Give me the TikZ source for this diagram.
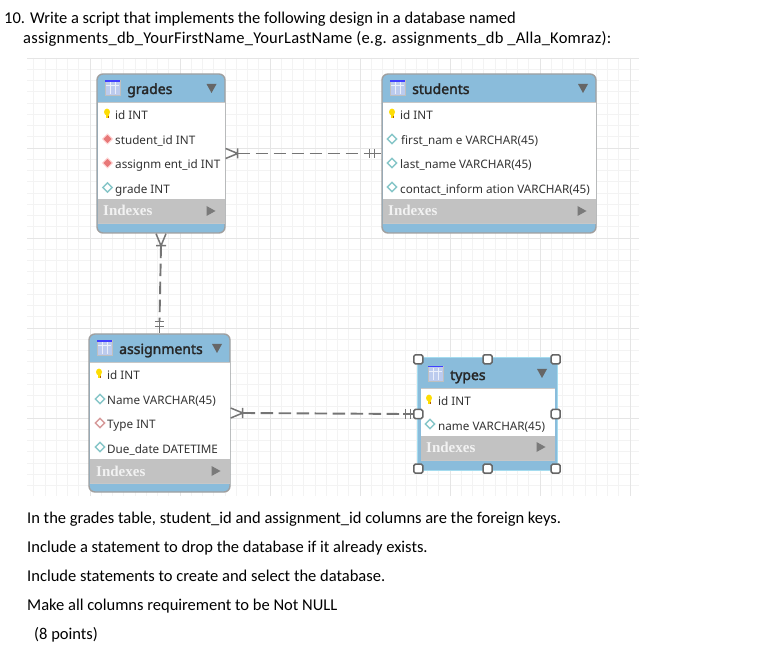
\documentclass[tikz,border=0pt]{standalone}
\usepackage{fontspec}
\setmainfont{Carlito}
\newfontfamily\tblfont{Noto Sans}
\newfontfamily\ttlfont[FakeBold=2]{Noto Sans}
\newfontfamily\idxfont{Liberation Serif}
\newfontface\widecarlito[LetterSpace=1.4]{Carlito}
\usetikzlibrary{calc}
\definecolor{hdr}{HTML}{8ABCDB}
\definecolor{bord}{HTML}{A0A0A0}
\definecolor{idx}{HTML}{C2C2C2}
\definecolor{gridminor}{HTML}{F3F3F3}
\definecolor{gridmajor}{HTML}{E5E5E5}
\definecolor{relc}{HTML}{757575}
\definecolor{iconfill}{HTML}{BCCBEE}
\definecolor{seln}{HTML}{A5DCEF}
\definecolor{fkred}{HTML}{E87878}
\definecolor{colteal}{HTML}{86C6C8}
\definecolor{refrose}{HTML}{D79A9A}
\tikzset{
  x=1pt,y=-1pt,
  tablebox/.style={draw=bord,line width=1.4pt,fill=hdr,rounded corners=6pt,inner sep=0pt,minimum width=#1},
  prose/.style={anchor=base west,inner sep=0pt,font=\fontsize{16.5}{18}\selectfont,text=black},
  ttl/.style={anchor=base west,inner sep=0pt,font=\ttlfont\fontsize{14}{16}\selectfont,text=black!85},
  col/.style={anchor=base west,inner sep=0pt,font=\tblfont\fontsize{11.7}{13}\selectfont,text=black!80},
  idxlab/.style={anchor=base west,inner sep=0pt,font=\idxfont\bfseries\fontsize{15}{17}\selectfont,text=white!90!gray},
  rel/.style={draw=relc,line width=1.9pt},
  reldash/.style={rel,dash pattern=on 12.5pt off 5.5pt},
  handle/.style={draw=black!60,line width=1.5pt,fill=white,rounded corners=1.5pt,minimum size=9pt,inner sep=0pt},
  crow/.pic={\draw[draw=relc,line width=1.5pt] (0,-5) -- (12,0) -- (0,5) (12,-5) -- (12,5);},
  onebar/.pic={\draw[draw=relc,line width=1.5pt] (7,-4.5) -- (7,4.5) (12,-4.5) -- (12,4.5);},
  tblicon/.pic={
    \fill[black!30] (1,1) rectangle (16,16);
    \fill[iconfill,draw=black!25,line width=.5pt] (0,0) rectangle (15,15);
    \fill[blue!75] (0,0) rectangle (15,1.3);
    \draw[white!70!iconfill,line width=.6pt] (5,2) -- (5,14) (10,2) -- (10,14) (1,5) -- (14,5);
  },
  keyic/.pic={
    \fill[yellow!80!orange] (0,-1) ellipse (3 and 3.4);
    \fill[yellow!80!orange] (-1.5,0) rectangle (1.5,5.5);
    \fill[orange!70!black] (.8,3) rectangle (1.5,5.5);
  },
  fkic/.pic={\fill[fkred,draw=red!15!white,line width=.9pt] (-5,0) -- (0,-5) -- (5,0) -- (0,5) -- cycle;},
  colic/.pic={\draw[fill=white,draw=colteal,line width=1.3pt] (-4.6,0) -- (0,-4.6) -- (4.6,0) -- (0,4.6) -- cycle;},
  refic/.pic={\draw[fill=white,draw=refrose,line width=1.3pt] (-4.6,0) -- (0,-4.6) -- (4.6,0) -- (0,4.6) -- cycle;},
  dnarrow/.pic={\fill[black!60] (-5,-4.5) -- (5,-4.5) -- (0,4.5) -- cycle;},
  rtarrow/.pic={\fill[black!52] (-4.5,-5) -- (4.5,0) -- (-4.5,5) -- cycle;},
}
% table: name, x-left, x-right, y-top, y-header, y-rows, y-indexes, y-bottom
\newcommand{\erbox}[8]{%
  \node[tablebox=#3-#2,minimum height=#8-#4] (#1) at ({(#2+#3)/2},{(#4+#8)/2}) {};
  \fill[white] (#2+.5,#5) rectangle (#3-.5,#6);
  \fill[idx] (#2+.5,#6) rectangle (#3-.5,#7);
  \draw[black!22,line width=.7pt] (#2+.5,#5) -- (#3-.5,#5) (#2+.5,#7) -- (#3-.5,#7);
}
\begin{document}
\begin{tikzpicture}
\useasboundingbox (0,0) rectangle (764,647);
\fill[white] (0,0) rectangle (764,647);
% grid
\foreach \gi in {0,...,53} \draw[gridminor,line width=.8pt] ({33.75+\gi*11.25},58) -- ({33.75+\gi*11.25},496);
\foreach \gi in {0,...,38} \draw[gridminor,line width=.8pt] (27,{58+\gi*11.25}) -- (639,{58+\gi*11.25});
\foreach \gx in {90,180,...,630} \draw[gridmajor,line width=.9pt] (\gx,58) -- (\gx,496);
\foreach \gy in {58,148,...,418} \draw[gridmajor,line width=.9pt] (27,\gy) -- (639,\gy);
% prose
\node[prose] (q1) at (4,23.5) {10. Write a script that implements the following design in a database named};
\node[prose] (q2) at (23,43.5) {\widecarlito assignments\_db\_YourFirstName\_YourLastName (e.g. assignments\_db \_Alla\_Komraz):};
\node[prose] (p1) at (27,523) {In the grades table, student\_id and assignment\_id columns are the foreign keys.};
\node[prose] (p2) at (27,552) {Include a statement to drop the database if it already exists.};
\node[prose] (p3) at (27,581) {Include statements to create and select the database.};
\node[prose] (p4) at (27,610) {Make all columns requirement to be Not NULL};
\node[prose] (p5) at (34,639) {(8 points)};
% tables
\erbox{grades}{97}{225}{74}{102}{199}{223}{233}
\erbox{students}{382}{596}{74}{102}{199}{223}{233}
\erbox{assignments}{89}{230}{334}{362}{459}{483}{492}
\erbox{types}{418}{557}{358}{388}{436}{460}{470}
% types is selected: square blue frame
\fill[hdr] (418,358) rectangle (421,470);
\fill[hdr] (555,358) rectangle (557,470);
\fill[hdr] (418,358) rectangle (557,366);
\fill[hdr] (418,461) rectangle (557,470);
\draw[seln,line width=1.2pt] (types.north west) rectangle (types.south east);
% grades
\pic at (105,80.5) {tblicon};
\node[ttl] (g0) at (127,94) {grades};
\pic at (211.5,88.5) {dnarrow};
\pic at (107,113) {keyic};
\node[col] (g1) at (115,119.5) {id INT};
\pic at (107.5,139) {fkic};
\node[col] (g2) at (115,144.5) {student\_id INT};
\pic at (107.5,163) {fkic};
\node[col] (g3) at (115,168.5) {assignm ent\_id INT};
\pic at (107.5,187.5) {colic};
\node[col] (g4) at (115,193.5) {grade INT};
\node[idxlab] (g5) at (103,216) {Indexes};
\pic at (211,211) {rtarrow};
% students
\pic at (390,80.5) {tblicon};
\node[ttl] (s0) at (412,94) {students};
\pic at (583,88.5) {dnarrow};
\pic at (392,113) {keyic};
\node[col] (s1) at (400,119.5) {id INT};
\pic at (392,139) {colic};
\node[col] (s2) at (401,144.5) {first\_nam e VARCHAR(45)};
\pic at (392,163) {colic};
\node[col] (s3) at (400,168.5) {last\_name VARCHAR(45)};
\pic at (392,187) {colic};
\node[col] (s4) at (400,193.5) {contact\_inform ation VARCHAR(45)};
\node[idxlab] (s5) at (388,216) {Indexes};
\pic at (582,211) {rtarrow};
% assignments
\pic at (97,340.5) {tblicon};
\node[ttl] (a0) at (119,354) {assignments};
\pic at (217,348.5) {dnarrow};
\pic at (99,373) {keyic};
\node[col] (a1) at (107,379.5) {id INT};
\pic at (100,399) {colic};
\node[col] (a2) at (107,404.5) {Name VARCHAR(45)};
\pic at (100,423) {refic};
\node[col] (a3) at (107,428.5) {Type INT};
\pic at (100,447) {colic};
\node[col] (a4) at (107,453.5) {Due\_date DATETIME};
\node[idxlab] (a5) at (96,476) {Indexes};
\pic at (216,471) {rtarrow};
% types
\pic at (428,366) {tblicon};
\node[ttl] (t0) at (450,380) {types};
\pic at (542,373.5) {dnarrow};
\pic at (429,399) {keyic};
\node[col] (t1) at (438,405.5) {id INT};
\pic at (430,424) {colic};
\node[col] (t2) at (438,430.5) {name VARCHAR(45)};
\node[idxlab] (t3) at (426,453) {Indexes};
\pic at (541,447) {rtarrow};
% connectors
\draw[reldash] ([xshift=12pt]grades.east) -- ([xshift=-12pt]students.west);
\draw[rel] ([xshift=-14pt]students.west) -- (students.west);
\pic[rotate=0] at (grades.east) {crow};
\pic[rotate=180] at (students.west) {onebar};
\draw[reldash] ([yshift=-12pt]grades.south) -- ([yshift=12pt]assignments.north);
\draw[rel] ([yshift=14pt]assignments.north) -- (assignments.north);
\pic[rotate=-90] at (grades.south) {crow};
\pic[rotate=90] at (assignments.north) {onebar};
\draw[reldash] ([xshift=12pt]assignments.east) -- ([xshift=-12pt]types.west);
\draw[rel] ([xshift=-14pt]types.west) -- (types.west);
\pic[rotate=0] at (assignments.east) {crow};
\pic[rotate=180] at (types.west) {onebar};
% selection handles
\foreach \hn/\ha/\hdx/\hdy in {a/north west/1/2,b/north/0/2,c/north east/-2/2,d/west/1/0,e/east/-2/0,f/south west/1/-2,g/south/0/-2,h/south east/-2/-2}
  \node[handle] (h\hn) at ([shift={(\hdx pt,-\hdy pt)}]types.\ha) {};
\end{tikzpicture}
\end{document}
